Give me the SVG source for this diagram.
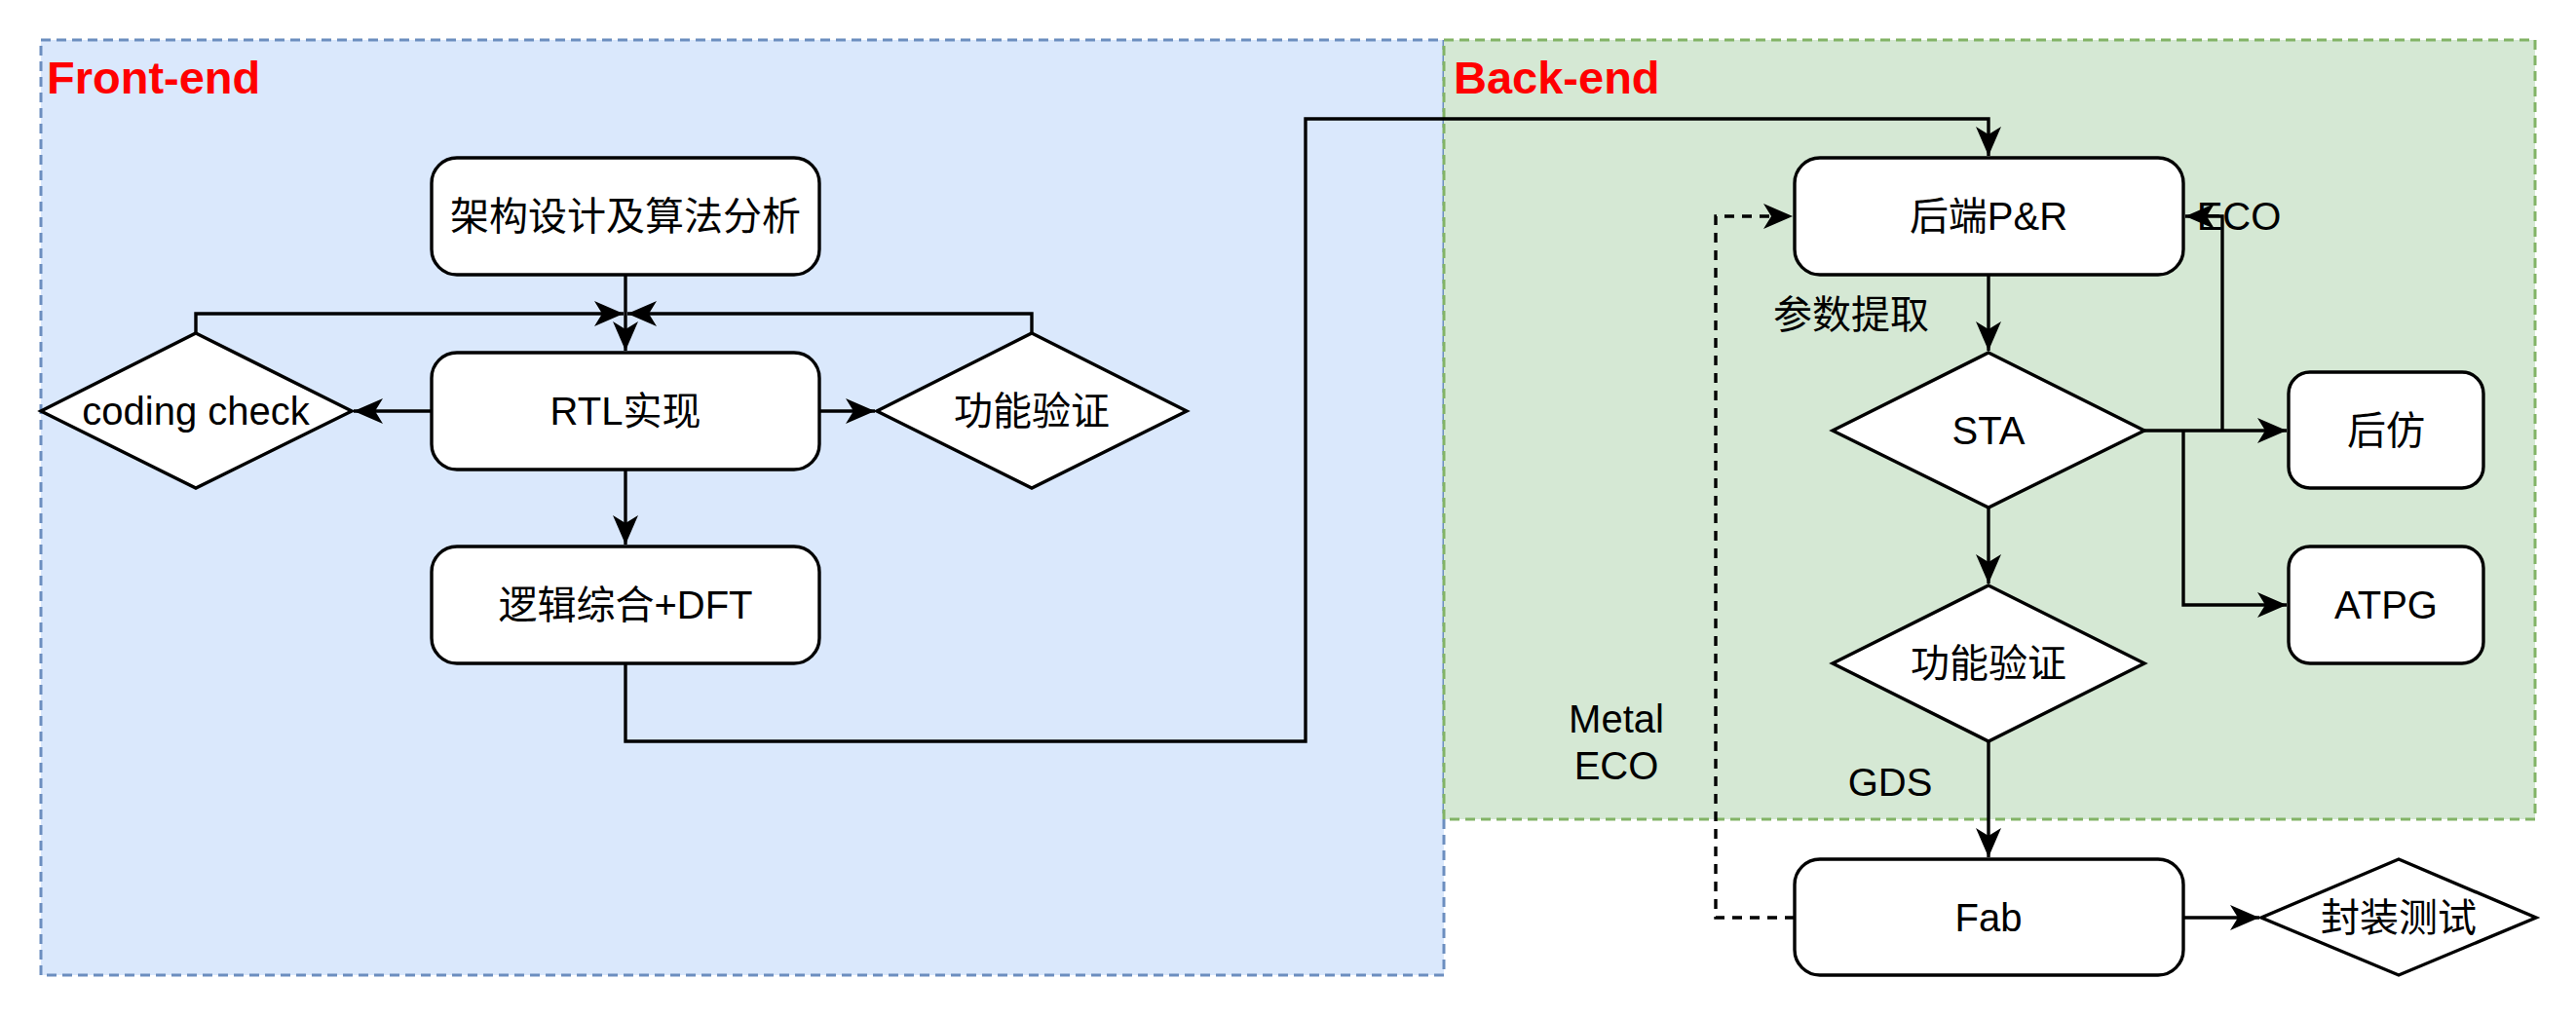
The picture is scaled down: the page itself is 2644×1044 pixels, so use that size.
<svg xmlns="http://www.w3.org/2000/svg" width="2644" height="1044" viewBox="0 0 2644 1044">
<style>
.n{fill:#fff;stroke:#000;stroke-width:3.4}
.t{font-family:"Liberation Sans","Noto Sans CJK SC",sans-serif;font-size:40px;fill:#000;text-anchor:middle;dominant-baseline:central}
.c{fill:none;stroke:#000;stroke-width:3.4}
.h{font-family:"Liberation Sans",sans-serif;font-size:47px;font-weight:bold;fill:#ff0000}
</style>
<defs>
<marker id="a" markerUnits="userSpaceOnUse" markerWidth="32" markerHeight="28" refX="30" refY="13" orient="auto">
<path d="M0,0 L30,13 L0,26 L8,13 z" fill="#000"/>
</marker>
</defs>
<g id="frontend"><rect x="42" y="41" width="1440" height="960" fill="#dae8fc" stroke="#6c8ebf" stroke-width="3" stroke-dasharray="10,6"/><text class="h" x="48" y="79" dominant-baseline="central">Front-end</text></g>
<g id="backend"><rect x="1482" y="41" width="1120" height="800" fill="#d5e8d4" stroke="#82b366" stroke-width="3" stroke-dasharray="10,6"/><text class="h" x="1492" y="79" dominant-baseline="central">Back-end</text></g>
<g id="connectors">
<path class="c" d="M642,282 V360" marker-end="url(#a)"/>
<path class="c" d="M201,342 V322 H640" marker-end="url(#a)"/>
<path class="c" d="M1059,342 V322 H644" marker-end="url(#a)"/>
<path class="c" d="M443,422 H363" marker-end="url(#a)"/>
<path class="c" d="M841,422 H898" marker-end="url(#a)"/>
<path class="c" d="M642,482 V559" marker-end="url(#a)"/>
<path class="c" d="M642,681 V761 H1340 V122 H2041 V160" marker-end="url(#a)"/>
<path class="c" d="M2041,282 V360" marker-end="url(#a)"/>
<path class="c" d="M2201,442 H2347" marker-end="url(#a)"/>
<path class="c" d="M2281,442 V222 H2243" marker-end="url(#a)"/>
<path class="c" d="M2241,442 V621 H2347" marker-end="url(#a)"/>
<path class="c" d="M2041,521 V599" marker-end="url(#a)"/>
<path class="c" d="M2041,761 V880" marker-end="url(#a)"/>
<path class="c" d="M1842,942 H1761 V222 H1840" stroke-dasharray="10,8" marker-end="url(#a)"/>
<path class="c" d="M2241,942 H2319" marker-end="url(#a)"/>
<text class="t" x="1900" y="323">参数提取</text>
<text class="t" x="2298" y="222" text-anchor="start">ECO</text>
<text class="t" x="1940" y="803">GDS</text>
<text class="t" x="1659" y="738">Metal</text>
<text class="t" x="1659" y="786">ECO</text>
</g>
<g id="n1"><rect class="n" x="443" y="162" width="398" height="120" rx="26"/><text class="t" x="642" y="222">架构设计及算法分析</text></g>
<g id="n2"><rect class="n" x="443" y="362" width="398" height="120" rx="26"/><text class="t" x="642" y="422">RTL实现</text></g>
<g id="n3"><rect class="n" x="443" y="561" width="398" height="120" rx="26"/><text class="t" x="642" y="621">逻辑综合+DFT</text></g>
<g id="n4"><polygon class="n" points="201,342 361,422 201,501 42,422"/><text class="t" x="201" y="422">coding check</text></g>
<g id="n5"><polygon class="n" points="1059,342 1218,422 1059,501 900,422"/><text class="t" x="1059" y="422">功能验证</text></g>
<g id="n6"><rect class="n" x="1842" y="162" width="399" height="120" rx="26"/><text class="t" x="2041" y="222">后端P&amp;R</text></g>
<g id="n7"><polygon class="n" points="2041,362 2201,442 2041,521 1881,442"/><text class="t" x="2041" y="442">STA</text></g>
<g id="n8"><polygon class="n" points="2041,601 2201,681 2041,761 1881,681"/><text class="t" x="2041" y="681">功能验证</text></g>
<g id="n9"><rect class="n" x="2349" y="382" width="200" height="119" rx="22"/><text class="t" x="2449" y="442">后仿</text></g>
<g id="n10"><rect class="n" x="2349" y="561" width="200" height="120" rx="22"/><text class="t" x="2449" y="621">ATPG</text></g>
<g id="n11"><rect class="n" x="1842" y="882" width="399" height="119" rx="26"/><text class="t" x="2041" y="942">Fab</text></g>
<g id="n12"><polygon class="n" points="2462,882 2603,942 2462,1001 2321,942"/><text class="t" x="2462" y="942">封装测试</text></g>
</svg>
